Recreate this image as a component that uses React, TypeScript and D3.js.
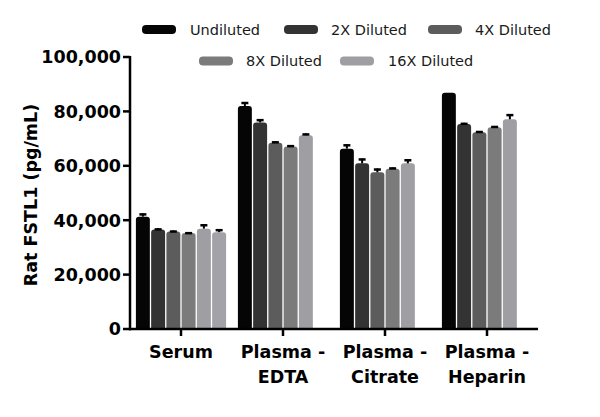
import React from "react";
import * as d3 from "d3";

const categories = ["Serum", "Plasma - EDTA", "Plasma - Citrate", "Plasma - Heparin"];
const categoryLines = [["Serum"], ["Plasma -", "EDTA"], ["Plasma -", "Citrate"], ["Plasma -", "Heparin"]];

const seriesNames = ["Undiluted", "2X Diluted", "4X Diluted", "8X Diluted", "16X Diluted", "Extra"];
const legendNames = ["Undiluted", "2X Diluted", "4X Diluted", "8X Diluted", "16X Diluted"];
const seriesColors = ["#050505", "#333333", "#5c5c5c", "#7b7b7b", "#9e9ea3", "#a2a2a8"];

const undiluted = [41300, 81950, 66300, 86900];
const diluted2x = [36600, 75950, 60900, 75400];
const diluted4x = [35800, 68500, 57600, 72300];
const diluted8x = [35300, 67100, 58900, 74150];
const diluted16x = [36900, 71200, 60900, 77100];
const extraSerum = [35600, null, null, null];

const errUndiluted = [1200, 1500, 1600, 0];
const err2x = [400, 1200, 1800, 400];
const err4x = [400, 500, 1400, 500];
const err8x = [300, 500, 500, 500];
const err16x = [1600, 700, 1500, 1900];
const errExtra = [1100, null, null, null];

const yTicks = [0, 20000, 40000, 60000, 80000, 100000];

const seriesValues = [undiluted, diluted2x, diluted4x, diluted8x, diluted16x, extraSerum];
const seriesErrors = [errUndiluted, err2x, err4x, err8x, err16x, errExtra];

const W = 600;
const H = 417;
const axisLeft = 130;
const axisRight = 538;
const yBottom = 329;
const yTop = 57;
const FONT = "'DejaVu Sans', sans-serif";

function topRounded(x: number, y: number, w: number, h: number, r: number) {
  const rr = Math.min(r, w / 2, h);
  return `M${x},${y + h}V${y + rr}Q${x},${y} ${x + rr},${y}H${x + w - rr}Q${x + w},${y} ${x + w},${y + rr}V${y + h}Z`;
}

export default function App() {
  const y = d3.scaleLinear().domain([0, 100000]).range([yBottom, yTop]);
  const x0 = d3.scaleBand<string>().domain(categories).range([axisLeft, axisRight]);
  const step = x0.bandwidth();
  const groupW = 91.5;
  const x1 = d3
    .scaleBand<string>()
    .domain(seriesNames)
    .range([(step - groupW) / 2, (step + groupW) / 2]);
  const slot = x1.bandwidth();
  const barW = slot - 1.3;
  const fmt = d3.format(",");

  const legendRow1 = [
    { name: legendNames[0], color: seriesColors[0], sx: 142, tx: 190, y: 29.5 },
    { name: legendNames[1], color: seriesColors[1], sx: 284, tx: 331, y: 29.5 },
    { name: legendNames[2], color: seriesColors[2], sx: 428, tx: 475, y: 29.5 },
    { name: legendNames[3], color: seriesColors[3], sx: 199, tx: 246, y: 61 },
    { name: legendNames[4], color: seriesColors[4], sx: 340, tx: 388, y: 61 },
  ];

  return (
    <svg
      width={W}
      height={H}
      viewBox={`0 0 ${W} ${H}`}
      style={{ position: "absolute", left: 0, top: 0, background: "#fff" }}
    >
      <rect x={0} y={0} width={W} height={H} fill="#fff" />
      {/* legend */}
      {legendRow1.map((l) => (
        <g key={l.name}>
          <rect x={l.sx} y={l.y - 4.5} width={34} height={9} rx={4} ry={4} fill={l.color} />
          <text
            x={l.tx}
            y={l.y}
            dy="0.35em"
            fontFamily={FONT}
            fontSize={14.5}
            fill="#1a1a1a"
          >
            {l.name}
          </text>
        </g>
      ))}

      {/* bars */}
      {categories.map((cat, ci) => (
        <g key={cat} transform={`translate(${x0(cat)},0)`}>
          {seriesNames.map((s, si) => {
            const v = seriesValues[si][ci];
            if (v == null) return null;
            const e = seriesErrors[si][ci] ?? 0;
            const bx = (x1(s) as number) + (slot - barW) / 2;
            const top = y(v);
            const cx = bx + barW / 2;
            return (
              <g key={s}>
                <path d={topRounded(bx, top, barW, yBottom - top, 3)} fill={seriesColors[si]} />
                {e > 0 && (
                  <g>
                    <line x1={cx} x2={cx} y1={top} y2={y(v + e)} stroke="#000" strokeWidth={2} />
                    <line
                      x1={cx - 3.5}
                      x2={cx + 3.5}
                      y1={y(v + e) + 1}
                      y2={y(v + e) + 1}
                      stroke="#000"
                      strokeWidth={2.5}
                    />
                  </g>
                )}
              </g>
            );
          })}
        </g>
      ))}

      {/* y axis */}
      <line x1={axisLeft} x2={axisLeft} y1={yTop - 1} y2={yBottom + 1.2} stroke="#000" strokeWidth={2.5} />
      {yTicks.map((t) => (
        <g key={t}>
          <line x1={axisLeft - 7} x2={axisLeft} y1={y(t)} y2={y(t)} stroke="#000" strokeWidth={2.5} />
          <text
            x={axisLeft - 9}
            y={y(t)}
            dy="0.36em"
            textAnchor="end"
            fontFamily={FONT}
            fontWeight="bold"
            fontSize={17.5}
            fill="#000"
          >
            {fmt(t)}
          </text>
        </g>
      ))}
      <text
        transform={`translate(37,${(yTop + yBottom) / 2 + 2}) rotate(-90)`}
        textAnchor="middle"
        fontFamily={FONT}
        fontWeight="bold"
        fontSize={17.5}
        fill="#000"
      >
        Rat FSTL1 (pg/mL)
      </text>

      {/* x axis */}
      <line x1={axisLeft - 1} x2={axisRight} y1={yBottom} y2={yBottom} stroke="#000" strokeWidth={2.5} />
      {categories.map((cat, ci) => {
        const cx = (x0(cat) as number) + step / 2;
        return (
          <g key={cat}>
            <line x1={cx} x2={cx} y1={yBottom} y2={yBottom + 7} stroke="#000" strokeWidth={2.5} />
            {categoryLines[ci].map((ln, li) => (
              <text
                key={li}
                x={cx}
                y={352 + li * 25}
                dy="0.36em"
                textAnchor="middle"
                fontFamily={FONT}
                fontWeight="bold"
                fontSize={17.5}
                fill="#000"
              >
                {ln}
              </text>
            ))}
          </g>
        );
      })}
    </svg>
  );
}
